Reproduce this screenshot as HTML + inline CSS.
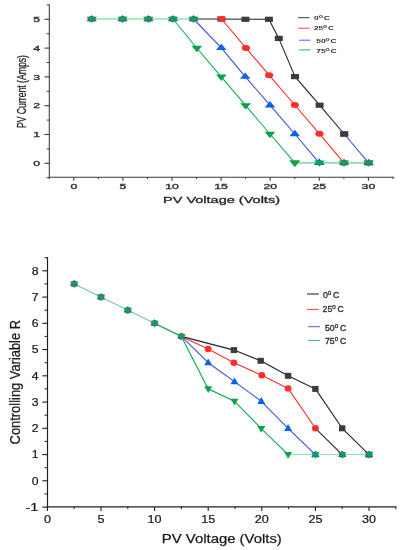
<!DOCTYPE html>
<html lang="en"><head><meta charset="utf-8"><title>PV characteristics</title>
<style>
html,body{margin:0;padding:0;background:#fff;}
svg{display:block;font-family:"Liberation Sans",sans-serif;}
</style></head>
<body>
<svg width="401" height="550" viewBox="0 0 401 550">
<rect width="401" height="550" fill="#ffffff"/>
<g id="chart1">
<polyline points="193.5,19.0 221.3,19.0 245.4,19.3 268.9,19.3 278.8,38.4 295.0,76.6 319.6,105.2 344.2,134.0" fill="none" stroke="#222222" stroke-width="1.1" stroke-linejoin="round"/>
<line x1="344.2" y1="134.0" x2="368.6" y2="162.8" stroke="#3b50dc" stroke-width="1.1" />
<polyline points="221.5,19.0 245.9,47.9 269.1,75.2 294.8,105.0 319.5,133.8 344.0,162.8" fill="none" stroke="#ff2d2d" stroke-width="1.1" stroke-linejoin="round"/>
<polyline points="193.5,19.0 221.3,47.9 245.2,76.6 270.0,105.2 294.8,134.0 319.3,162.8" fill="none" stroke="#3b50dc" stroke-width="1.1" stroke-linejoin="round"/>
<polyline points="173.0,19.0 196.8,48.0 221.3,76.8 245.6,105.4 270.0,134.0 294.8,162.8" fill="none" stroke="#10b050" stroke-width="1.1" stroke-linejoin="round"/>
<line x1="91.7" y1="19.0" x2="193.5" y2="19.0" stroke="#56d486" stroke-width="1.2" />
<line x1="294.8" y1="162.8" x2="368.6" y2="162.8" stroke="#56d486" stroke-width="1.2" />
<rect x="217.3" y="16.4" width="8" height="5.2" fill="#3c3c3c"/>
<rect x="241.4" y="16.7" width="8" height="5.2" fill="#3c3c3c"/>
<rect x="264.9" y="16.7" width="8" height="5.2" fill="#3c3c3c"/>
<rect x="274.8" y="35.8" width="8" height="5.2" fill="#3c3c3c"/>
<rect x="291.0" y="74.0" width="8" height="5.2" fill="#3c3c3c"/>
<rect x="315.6" y="102.6" width="8" height="5.2" fill="#3c3c3c"/>
<rect x="340.2" y="131.4" width="8" height="5.2" fill="#3c3c3c"/>
<rect x="340.2" y="131.4" width="8" height="5.2" fill="#3c3c3c"/>
<rect x="364.6" y="160.2" width="8" height="5.2" fill="#3c3c3c"/>
<ellipse cx="221.5" cy="19.0" rx="4.1" ry="3.0" fill="#ff2d2d"/>
<ellipse cx="245.9" cy="47.9" rx="4.1" ry="3.0" fill="#ff2d2d"/>
<ellipse cx="269.1" cy="75.2" rx="4.1" ry="3.0" fill="#ff2d2d"/>
<ellipse cx="294.8" cy="105.0" rx="4.1" ry="3.0" fill="#ff2d2d"/>
<ellipse cx="319.5" cy="133.8" rx="4.1" ry="3.0" fill="#ff2d2d"/>
<ellipse cx="344.0" cy="162.8" rx="4.1" ry="3.0" fill="#ff2d2d"/>
<ellipse cx="368.6" cy="162.8" rx="4.1" ry="3.0" fill="#ff2d2d"/>
<polygon points="221.3,43.7 226.6,50.1 216.0,50.1" fill="#0b62ee"/>
<polygon points="245.2,72.4 250.5,78.8 239.9,78.8" fill="#0b62ee"/>
<polygon points="270.0,101.0 275.3,107.4 264.7,107.4" fill="#0b62ee"/>
<polygon points="294.8,129.8 300.1,136.2 289.5,136.2" fill="#0b62ee"/>
<polygon points="319.3,158.6 324.6,165.0 314.0,165.0" fill="#0b62ee"/>
<polygon points="191.5,45.8 202.1,45.8 196.8,52.2" fill="#0aa24c"/>
<polygon points="216.0,74.6 226.6,74.6 221.3,81.0" fill="#0aa24c"/>
<polygon points="240.3,103.2 250.9,103.2 245.6,109.6" fill="#0aa24c"/>
<polygon points="264.7,131.8 275.3,131.8 270.0,138.2" fill="#0aa24c"/>
<polygon points="289.5,160.6 300.1,160.6 294.8,167.0" fill="#0aa24c"/>
<ellipse cx="91.7" cy="19.0" rx="4.4" ry="3.1" fill="#f0766a"/>
<polygon points="91.7,15.0 96.9,21.2 86.5,21.2" fill="#0b62ee"/>
<polygon points="86.5,16.8 96.9,16.8 91.7,23.0" fill="#0aa24c"/>
<ellipse cx="122.6" cy="19.0" rx="4.4" ry="3.1" fill="#f0766a"/>
<polygon points="122.6,15.0 127.8,21.2 117.4,21.2" fill="#0b62ee"/>
<polygon points="117.4,16.8 127.8,16.8 122.6,23.0" fill="#0aa24c"/>
<ellipse cx="148.4" cy="19.0" rx="4.4" ry="3.1" fill="#f0766a"/>
<polygon points="148.4,15.0 153.6,21.2 143.2,21.2" fill="#0b62ee"/>
<polygon points="143.2,16.8 153.6,16.8 148.4,23.0" fill="#0aa24c"/>
<ellipse cx="173.0" cy="19.0" rx="4.4" ry="3.1" fill="#f0766a"/>
<polygon points="173.0,15.0 178.2,21.2 167.8,21.2" fill="#0b62ee"/>
<polygon points="167.8,16.8 178.2,16.8 173.0,23.0" fill="#0aa24c"/>
<ellipse cx="193.5" cy="19.0" rx="4.4" ry="3.1" fill="#f0766a"/>
<polygon points="193.5,15.0 198.7,21.2 188.3,21.2" fill="#0b62ee"/>
<polygon points="188.3,16.8 198.7,16.8 193.5,23.0" fill="#0aa24c"/>
<polygon points="289.6,160.6 300.0,160.6 294.8,166.8" fill="#0aa24c"/>
<polygon points="319.3,158.8 324.5,165.0 314.1,165.0" fill="#0b62ee"/>
<polygon points="314.1,160.6 324.5,160.6 319.3,166.8" fill="#0aa24c"/>
<ellipse cx="344.0" cy="162.8" rx="4.4" ry="3.1" fill="#f0766a"/>
<polygon points="344.0,158.8 349.2,165.0 338.8,165.0" fill="#0b62ee"/>
<polygon points="338.8,160.6 349.2,160.6 344.0,166.8" fill="#0aa24c"/>
<ellipse cx="368.6" cy="162.8" rx="4.4" ry="3.1" fill="#f0766a"/>
<polygon points="368.6,158.8 373.8,165.0 363.4,165.0" fill="#0b62ee"/>
<polygon points="363.4,160.6 373.8,160.6 368.6,166.8" fill="#0aa24c"/>
<line x1="49.3" y1="4.2" x2="49.3" y2="177.8" stroke="#3a3a3a" stroke-width="1.05" />
<line x1="48.8" y1="177.3" x2="394.2" y2="177.3" stroke="#3a3a3a" stroke-width="1.05" />
<line x1="44.5" y1="163.3" x2="49.3" y2="163.3" stroke="#3a3a3a" stroke-width="1.1" />
<line x1="44.5" y1="134.5" x2="49.3" y2="134.5" stroke="#3a3a3a" stroke-width="1.1" />
<line x1="44.5" y1="105.7" x2="49.3" y2="105.7" stroke="#3a3a3a" stroke-width="1.1" />
<line x1="44.5" y1="76.9" x2="49.3" y2="76.9" stroke="#3a3a3a" stroke-width="1.1" />
<line x1="44.5" y1="48.1" x2="49.3" y2="48.1" stroke="#3a3a3a" stroke-width="1.1" />
<line x1="44.5" y1="19.3" x2="49.3" y2="19.3" stroke="#3a3a3a" stroke-width="1.1" />
<line x1="46.7" y1="177.7" x2="49.3" y2="177.7" stroke="#3a3a3a" stroke-width="1.0" />
<line x1="46.7" y1="148.9" x2="49.3" y2="148.9" stroke="#3a3a3a" stroke-width="1.0" />
<line x1="46.7" y1="120.1" x2="49.3" y2="120.1" stroke="#3a3a3a" stroke-width="1.0" />
<line x1="46.7" y1="91.3" x2="49.3" y2="91.3" stroke="#3a3a3a" stroke-width="1.0" />
<line x1="46.7" y1="62.5" x2="49.3" y2="62.5" stroke="#3a3a3a" stroke-width="1.0" />
<line x1="46.7" y1="33.7" x2="49.3" y2="33.7" stroke="#3a3a3a" stroke-width="1.0" />
<line x1="46.7" y1="4.9" x2="49.3" y2="4.9" stroke="#3a3a3a" stroke-width="1.0" />
<line x1="73.8" y1="177.3" x2="73.8" y2="180.7" stroke="#3a3a3a" stroke-width="1.1" />
<line x1="122.9" y1="177.3" x2="122.9" y2="180.7" stroke="#3a3a3a" stroke-width="1.1" />
<line x1="172.0" y1="177.3" x2="172.0" y2="180.7" stroke="#3a3a3a" stroke-width="1.1" />
<line x1="221.1" y1="177.3" x2="221.1" y2="180.7" stroke="#3a3a3a" stroke-width="1.1" />
<line x1="270.2" y1="177.3" x2="270.2" y2="180.7" stroke="#3a3a3a" stroke-width="1.1" />
<line x1="319.3" y1="177.3" x2="319.3" y2="180.7" stroke="#3a3a3a" stroke-width="1.1" />
<line x1="368.4" y1="177.3" x2="368.4" y2="180.7" stroke="#3a3a3a" stroke-width="1.1" />
<line x1="49.2" y1="177.3" x2="49.2" y2="179.1" stroke="#3a3a3a" stroke-width="1.0" />
<line x1="98.3" y1="177.3" x2="98.3" y2="179.1" stroke="#3a3a3a" stroke-width="1.0" />
<line x1="147.4" y1="177.3" x2="147.4" y2="179.1" stroke="#3a3a3a" stroke-width="1.0" />
<line x1="196.6" y1="177.3" x2="196.6" y2="179.1" stroke="#3a3a3a" stroke-width="1.0" />
<line x1="245.6" y1="177.3" x2="245.6" y2="179.1" stroke="#3a3a3a" stroke-width="1.0" />
<line x1="294.8" y1="177.3" x2="294.8" y2="179.1" stroke="#3a3a3a" stroke-width="1.0" />
<line x1="343.9" y1="177.3" x2="343.9" y2="179.1" stroke="#3a3a3a" stroke-width="1.0" />
<line x1="393.0" y1="177.3" x2="393.0" y2="179.1" stroke="#3a3a3a" stroke-width="1.0" />
<text x="36.6" y="166.0" font-size="7.0" text-anchor="middle" font-weight="normal" fill="#2a2a2a" textLength="6.8" lengthAdjust="spacingAndGlyphs" stroke="#2a2a2a" stroke-width="0.3">0</text>
<text x="36.6" y="137.2" font-size="7.0" text-anchor="middle" font-weight="normal" fill="#2a2a2a" textLength="6.8" lengthAdjust="spacingAndGlyphs" stroke="#2a2a2a" stroke-width="0.3">1</text>
<text x="36.6" y="108.4" font-size="7.0" text-anchor="middle" font-weight="normal" fill="#2a2a2a" textLength="6.8" lengthAdjust="spacingAndGlyphs" stroke="#2a2a2a" stroke-width="0.3">2</text>
<text x="36.6" y="79.6" font-size="7.0" text-anchor="middle" font-weight="normal" fill="#2a2a2a" textLength="6.8" lengthAdjust="spacingAndGlyphs" stroke="#2a2a2a" stroke-width="0.3">3</text>
<text x="36.6" y="50.8" font-size="7.0" text-anchor="middle" font-weight="normal" fill="#2a2a2a" textLength="6.8" lengthAdjust="spacingAndGlyphs" stroke="#2a2a2a" stroke-width="0.3">4</text>
<text x="36.6" y="22.0" font-size="7.0" text-anchor="middle" font-weight="normal" fill="#2a2a2a" textLength="6.8" lengthAdjust="spacingAndGlyphs" stroke="#2a2a2a" stroke-width="0.3">5</text>
<text x="73.8" y="189.1" font-size="7.0" text-anchor="middle" font-weight="normal" fill="#2a2a2a" textLength="6.8" lengthAdjust="spacingAndGlyphs" stroke="#2a2a2a" stroke-width="0.3">0</text>
<text x="122.9" y="189.1" font-size="7.0" text-anchor="middle" font-weight="normal" fill="#2a2a2a" textLength="6.8" lengthAdjust="spacingAndGlyphs" stroke="#2a2a2a" stroke-width="0.3">5</text>
<text x="172.0" y="189.1" font-size="7.0" text-anchor="middle" font-weight="normal" fill="#2a2a2a" textLength="13.6" lengthAdjust="spacingAndGlyphs" stroke="#2a2a2a" stroke-width="0.3">10</text>
<text x="221.1" y="189.1" font-size="7.0" text-anchor="middle" font-weight="normal" fill="#2a2a2a" textLength="13.6" lengthAdjust="spacingAndGlyphs" stroke="#2a2a2a" stroke-width="0.3">15</text>
<text x="270.2" y="189.1" font-size="7.0" text-anchor="middle" font-weight="normal" fill="#2a2a2a" textLength="13.6" lengthAdjust="spacingAndGlyphs" stroke="#2a2a2a" stroke-width="0.3">20</text>
<text x="319.3" y="189.1" font-size="7.0" text-anchor="middle" font-weight="normal" fill="#2a2a2a" textLength="13.6" lengthAdjust="spacingAndGlyphs" stroke="#2a2a2a" stroke-width="0.3">25</text>
<text x="368.4" y="189.1" font-size="7.0" text-anchor="middle" font-weight="normal" fill="#2a2a2a" textLength="13.6" lengthAdjust="spacingAndGlyphs" stroke="#2a2a2a" stroke-width="0.3">30</text>
<text x="221.5" y="203.0" font-size="9.8" text-anchor="middle" font-weight="normal" fill="#222" textLength="117" lengthAdjust="spacingAndGlyphs" stroke="#222" stroke-width="0.3">PV Voltage (Volts)</text>
<text x="26.3" y="91.6" font-size="12.6" text-anchor="middle" font-weight="normal" fill="#222" textLength="73" lengthAdjust="spacingAndGlyphs" transform="rotate(-90 26.3 91.6)" id="yl1" stroke="#222" stroke-width="0.3">PV Current (Amps)</text>
<line x1="298.2" y1="17.7" x2="309.5" y2="17.7" stroke="#222222" stroke-width="0.9" />
<text x="313.9" y="20.0" font-size="5.6" font-weight="bold" fill="#2a2a2a" textLength="16" lengthAdjust="spacingAndGlyphs">0<tspan font-size="4.6" dy="-1.7">o</tspan><tspan dy="1.7" font-size="5.6">&#8202;C</tspan></text>
<line x1="298.2" y1="28.2" x2="309.5" y2="28.2" stroke="#ff2d2d" stroke-width="0.9" />
<text x="313.9" y="30.1" font-size="5.6" font-weight="bold" fill="#2a2a2a" textLength="20" lengthAdjust="spacingAndGlyphs">25<tspan font-size="4.6" dy="-1.7">o</tspan><tspan dy="1.7" font-size="5.6">&#8202;C</tspan></text>
<line x1="299.0" y1="40.2" x2="310.3" y2="40.2" stroke="#3b50dc" stroke-width="0.9" />
<text x="316.2" y="42.8" font-size="5.6" font-weight="bold" fill="#2a2a2a" textLength="20.5" lengthAdjust="spacingAndGlyphs">50<tspan font-size="4.6" dy="-1.7">o</tspan><tspan dy="1.7" font-size="5.6">&#8202;C</tspan></text>
<line x1="299.0" y1="49.9" x2="310.3" y2="49.9" stroke="#10b050" stroke-width="0.9" />
<text x="316.2" y="52.5" font-size="5.6" font-weight="bold" fill="#2a2a2a" textLength="20.5" lengthAdjust="spacingAndGlyphs">75<tspan font-size="4.6" dy="-1.7">o</tspan><tspan dy="1.7" font-size="5.6">&#8202;C</tspan></text>
</g>
<g id="chart2">
<polyline points="181.4,336.4 233.9,350.1 260.7,360.8 288.1,375.8 315.4,388.9 342.2,428.3 369.0,454.6" fill="none" stroke="#222222" stroke-width="1.1" stroke-linejoin="round"/>
<polyline points="181.4,336.4 208.2,349.0 233.9,362.7 261.8,375.3 288.1,388.4 315.4,428.3" fill="none" stroke="#ff2d2d" stroke-width="1.1" stroke-linejoin="round"/>
<line x1="315.4" y1="428.3" x2="342.2" y2="454.6" stroke="#222222" stroke-width="1.1" />
<polyline points="181.4,336.4 208.2,362.7 234.5,381.6 261.3,401.3 288.1,428.3 315.4,454.6" fill="none" stroke="#3b50dc" stroke-width="1.1" stroke-linejoin="round"/>
<polyline points="181.4,336.4 208.2,388.9 234.5,401.3 261.3,428.6 288.1,454.6" fill="none" stroke="#10b050" stroke-width="1.2" stroke-linejoin="round"/>
<polyline points="74.2,283.9 101.0,297.1 127.8,310.2 154.6,323.3" fill="none" stroke="#3cc476" stroke-width="0.9" stroke-linejoin="round"/>
<polyline points="154.6,323.3 181.4,336.4" fill="none" stroke="#10b050" stroke-width="1.3" stroke-linejoin="round"/>
<line x1="288.1" y1="454.6" x2="369.0" y2="454.6" stroke="#74dca0" stroke-width="0.9" />
<rect x="230.7" y="347.1" width="6.4" height="6.0" fill="#3c3c3c"/>
<rect x="257.5" y="357.8" width="6.4" height="6.0" fill="#3c3c3c"/>
<rect x="284.9" y="372.8" width="6.4" height="6.0" fill="#3c3c3c"/>
<rect x="312.2" y="385.9" width="6.4" height="6.0" fill="#3c3c3c"/>
<rect x="339.0" y="425.3" width="6.4" height="6.0" fill="#3c3c3c"/>
<rect x="365.8" y="451.6" width="6.4" height="6.0" fill="#3c3c3c"/>
<ellipse cx="208.2" cy="349.0" rx="3.4" ry="3.2" fill="#ff2d2d"/>
<ellipse cx="233.9" cy="362.7" rx="3.4" ry="3.2" fill="#ff2d2d"/>
<ellipse cx="261.8" cy="375.3" rx="3.4" ry="3.2" fill="#ff2d2d"/>
<ellipse cx="288.1" cy="388.4" rx="3.4" ry="3.2" fill="#ff2d2d"/>
<ellipse cx="315.4" cy="428.3" rx="3.4" ry="3.2" fill="#ff2d2d"/>
<ellipse cx="342.2" cy="454.6" rx="3.4" ry="3.2" fill="#ff2d2d"/>
<polygon points="208.2,358.5 212.2,365.3 204.2,365.3" fill="#0b62ee"/>
<polygon points="234.5,377.4 238.5,384.2 230.5,384.2" fill="#0b62ee"/>
<polygon points="261.3,397.1 265.3,403.9 257.3,403.9" fill="#0b62ee"/>
<polygon points="288.1,424.1 292.1,430.9 284.1,430.9" fill="#0b62ee"/>
<polygon points="315.4,450.4 319.4,457.2 311.4,457.2" fill="#0b62ee"/>
<polygon points="204.2,386.3 212.2,386.3 208.2,393.1" fill="#0aa24c"/>
<polygon points="230.5,398.7 238.5,398.7 234.5,405.5" fill="#0aa24c"/>
<polygon points="257.3,426.0 265.3,426.0 261.3,432.8" fill="#0aa24c"/>
<polygon points="284.1,451.9 292.1,451.9 288.1,458.8" fill="#0aa24c"/>
<ellipse cx="74.2" cy="283.9" rx="3.7" ry="3.3" fill="#ee7060"/>
<polygon points="74.2,279.7 78.3,286.2 70.1,286.2" fill="#0b62ee"/>
<polygon points="70.1,281.4 78.3,281.4 74.2,288.1" fill="#0aa24c"/>
<ellipse cx="101.0" cy="297.1" rx="3.7" ry="3.3" fill="#ee7060"/>
<polygon points="101.0,292.9 105.1,299.4 96.9,299.4" fill="#0b62ee"/>
<polygon points="96.9,294.6 105.1,294.6 101.0,301.2" fill="#0aa24c"/>
<ellipse cx="127.8" cy="310.2" rx="3.7" ry="3.3" fill="#ee7060"/>
<polygon points="127.8,306.0 131.9,312.5 123.7,312.5" fill="#0b62ee"/>
<polygon points="123.7,307.7 131.9,307.7 127.8,314.4" fill="#0aa24c"/>
<ellipse cx="154.6" cy="323.3" rx="3.7" ry="3.3" fill="#ee7060"/>
<polygon points="154.6,319.1 158.7,325.6 150.5,325.6" fill="#0b62ee"/>
<polygon points="150.5,320.8 158.7,320.8 154.6,327.5" fill="#0aa24c"/>
<ellipse cx="181.4" cy="336.4" rx="3.7" ry="3.3" fill="#ee7060"/>
<polygon points="181.4,332.2 185.5,338.7 177.3,338.7" fill="#0b62ee"/>
<polygon points="177.3,333.9 185.5,333.9 181.4,340.6" fill="#0aa24c"/>
<polygon points="315.4,450.4 319.5,456.9 311.3,456.9" fill="#0b62ee"/>
<polygon points="311.3,452.1 319.5,452.1 315.4,458.8" fill="#0aa24c"/>
<polygon points="342.2,450.4 346.3,456.9 338.1,456.9" fill="#0b62ee"/>
<polygon points="338.1,452.1 346.3,452.1 342.2,458.8" fill="#0aa24c"/>
<ellipse cx="369.0" cy="454.6" rx="3.7" ry="3.3" fill="#ee7060"/>
<polygon points="369.0,450.4 373.1,456.9 364.9,456.9" fill="#0b62ee"/>
<polygon points="364.9,452.1 373.1,452.1 369.0,458.8" fill="#0aa24c"/>
<line x1="47.5" y1="257.2" x2="47.5" y2="507.5" stroke="#1e1e1e" stroke-width="1.2" />
<line x1="46.9" y1="506.9" x2="396.5" y2="506.9" stroke="#1e1e1e" stroke-width="1.2" />
<line x1="42.3" y1="507.1" x2="47.5" y2="507.1" stroke="#1e1e1e" stroke-width="1.1" />
<line x1="42.3" y1="480.8" x2="47.5" y2="480.8" stroke="#1e1e1e" stroke-width="1.1" />
<line x1="42.3" y1="454.6" x2="47.5" y2="454.6" stroke="#1e1e1e" stroke-width="1.1" />
<line x1="42.3" y1="428.3" x2="47.5" y2="428.3" stroke="#1e1e1e" stroke-width="1.1" />
<line x1="42.3" y1="402.1" x2="47.5" y2="402.1" stroke="#1e1e1e" stroke-width="1.1" />
<line x1="42.3" y1="375.8" x2="47.5" y2="375.8" stroke="#1e1e1e" stroke-width="1.1" />
<line x1="42.3" y1="349.6" x2="47.5" y2="349.6" stroke="#1e1e1e" stroke-width="1.1" />
<line x1="42.3" y1="323.3" x2="47.5" y2="323.3" stroke="#1e1e1e" stroke-width="1.1" />
<line x1="42.3" y1="297.1" x2="47.5" y2="297.1" stroke="#1e1e1e" stroke-width="1.1" />
<line x1="42.3" y1="270.8" x2="47.5" y2="270.8" stroke="#1e1e1e" stroke-width="1.1" />
<line x1="44.5" y1="493.9" x2="47.5" y2="493.9" stroke="#1e1e1e" stroke-width="1.0" />
<line x1="44.5" y1="467.7" x2="47.5" y2="467.7" stroke="#1e1e1e" stroke-width="1.0" />
<line x1="44.5" y1="441.4" x2="47.5" y2="441.4" stroke="#1e1e1e" stroke-width="1.0" />
<line x1="44.5" y1="415.2" x2="47.5" y2="415.2" stroke="#1e1e1e" stroke-width="1.0" />
<line x1="44.5" y1="388.9" x2="47.5" y2="388.9" stroke="#1e1e1e" stroke-width="1.0" />
<line x1="44.5" y1="362.7" x2="47.5" y2="362.7" stroke="#1e1e1e" stroke-width="1.0" />
<line x1="44.5" y1="336.4" x2="47.5" y2="336.4" stroke="#1e1e1e" stroke-width="1.0" />
<line x1="44.5" y1="310.2" x2="47.5" y2="310.2" stroke="#1e1e1e" stroke-width="1.0" />
<line x1="44.5" y1="283.9" x2="47.5" y2="283.9" stroke="#1e1e1e" stroke-width="1.0" />
<line x1="44.5" y1="257.7" x2="47.5" y2="257.7" stroke="#1e1e1e" stroke-width="1.0" />
<line x1="47.4" y1="506.9" x2="47.4" y2="511.1" stroke="#1e1e1e" stroke-width="1.1" />
<line x1="101.0" y1="506.9" x2="101.0" y2="511.1" stroke="#1e1e1e" stroke-width="1.1" />
<line x1="154.6" y1="506.9" x2="154.6" y2="511.1" stroke="#1e1e1e" stroke-width="1.1" />
<line x1="208.2" y1="506.9" x2="208.2" y2="511.1" stroke="#1e1e1e" stroke-width="1.1" />
<line x1="261.8" y1="506.9" x2="261.8" y2="511.1" stroke="#1e1e1e" stroke-width="1.1" />
<line x1="315.4" y1="506.9" x2="315.4" y2="511.1" stroke="#1e1e1e" stroke-width="1.1" />
<line x1="369.0" y1="506.9" x2="369.0" y2="511.1" stroke="#1e1e1e" stroke-width="1.1" />
<line x1="74.2" y1="506.9" x2="74.2" y2="509.1" stroke="#1e1e1e" stroke-width="1.0" />
<line x1="127.8" y1="506.9" x2="127.8" y2="509.1" stroke="#1e1e1e" stroke-width="1.0" />
<line x1="181.4" y1="506.9" x2="181.4" y2="509.1" stroke="#1e1e1e" stroke-width="1.0" />
<line x1="235.0" y1="506.9" x2="235.0" y2="509.1" stroke="#1e1e1e" stroke-width="1.0" />
<line x1="288.6" y1="506.9" x2="288.6" y2="509.1" stroke="#1e1e1e" stroke-width="1.0" />
<line x1="342.2" y1="506.9" x2="342.2" y2="509.1" stroke="#1e1e1e" stroke-width="1.0" />
<line x1="395.8" y1="506.9" x2="395.8" y2="509.1" stroke="#1e1e1e" stroke-width="1.0" />
<text x="38.5" y="510.9" font-size="10.5" text-anchor="end" font-weight="normal" fill="#161616" textLength="13.0" lengthAdjust="spacingAndGlyphs" stroke="#161616" stroke-width="0.2">-1</text>
<text x="38.5" y="484.6" font-size="10.5" text-anchor="end" font-weight="normal" fill="#161616" textLength="6.8" lengthAdjust="spacingAndGlyphs" stroke="#161616" stroke-width="0.2">0</text>
<text x="38.5" y="458.4" font-size="10.5" text-anchor="end" font-weight="normal" fill="#161616" textLength="6.8" lengthAdjust="spacingAndGlyphs" stroke="#161616" stroke-width="0.2">1</text>
<text x="38.5" y="432.1" font-size="10.5" text-anchor="end" font-weight="normal" fill="#161616" textLength="6.8" lengthAdjust="spacingAndGlyphs" stroke="#161616" stroke-width="0.2">2</text>
<text x="38.5" y="405.9" font-size="10.5" text-anchor="end" font-weight="normal" fill="#161616" textLength="6.8" lengthAdjust="spacingAndGlyphs" stroke="#161616" stroke-width="0.2">3</text>
<text x="38.5" y="379.6" font-size="10.5" text-anchor="end" font-weight="normal" fill="#161616" textLength="6.8" lengthAdjust="spacingAndGlyphs" stroke="#161616" stroke-width="0.2">4</text>
<text x="38.5" y="353.4" font-size="10.5" text-anchor="end" font-weight="normal" fill="#161616" textLength="6.8" lengthAdjust="spacingAndGlyphs" stroke="#161616" stroke-width="0.2">5</text>
<text x="38.5" y="327.1" font-size="10.5" text-anchor="end" font-weight="normal" fill="#161616" textLength="6.8" lengthAdjust="spacingAndGlyphs" stroke="#161616" stroke-width="0.2">6</text>
<text x="38.5" y="300.9" font-size="10.5" text-anchor="end" font-weight="normal" fill="#161616" textLength="6.8" lengthAdjust="spacingAndGlyphs" stroke="#161616" stroke-width="0.2">7</text>
<text x="38.5" y="274.6" font-size="10.5" text-anchor="end" font-weight="normal" fill="#161616" textLength="6.8" lengthAdjust="spacingAndGlyphs" stroke="#161616" stroke-width="0.2">8</text>
<text x="47.4" y="523.0" font-size="10.5" text-anchor="middle" font-weight="normal" fill="#161616" textLength="7.0" lengthAdjust="spacingAndGlyphs" stroke="#161616" stroke-width="0.2">0</text>
<text x="101.0" y="523.0" font-size="10.5" text-anchor="middle" font-weight="normal" fill="#161616" textLength="7.0" lengthAdjust="spacingAndGlyphs" stroke="#161616" stroke-width="0.2">5</text>
<text x="154.6" y="523.0" font-size="10.5" text-anchor="middle" font-weight="normal" fill="#161616" textLength="14.0" lengthAdjust="spacingAndGlyphs" stroke="#161616" stroke-width="0.2">10</text>
<text x="208.2" y="523.0" font-size="10.5" text-anchor="middle" font-weight="normal" fill="#161616" textLength="14.0" lengthAdjust="spacingAndGlyphs" stroke="#161616" stroke-width="0.2">15</text>
<text x="261.8" y="523.0" font-size="10.5" text-anchor="middle" font-weight="normal" fill="#161616" textLength="14.0" lengthAdjust="spacingAndGlyphs" stroke="#161616" stroke-width="0.2">20</text>
<text x="315.4" y="523.0" font-size="10.5" text-anchor="middle" font-weight="normal" fill="#161616" textLength="14.0" lengthAdjust="spacingAndGlyphs" stroke="#161616" stroke-width="0.2">25</text>
<text x="369.0" y="523.0" font-size="10.5" text-anchor="middle" font-weight="normal" fill="#161616" textLength="14.0" lengthAdjust="spacingAndGlyphs" stroke="#161616" stroke-width="0.2">30</text>
<text x="221.8" y="543.2" font-size="13" text-anchor="middle" font-weight="normal" fill="#1a1a1a" textLength="120" lengthAdjust="spacingAndGlyphs" stroke="#1a1a1a" stroke-width="0.25">PV Voltage (Volts)</text>
<text x="20.3" y="382.2" font-size="13.8" text-anchor="middle" font-weight="normal" fill="#1a1a1a" textLength="124.4" lengthAdjust="spacingAndGlyphs" transform="rotate(-90 20.3 382.2)" id="yl2" stroke="#1a1a1a" stroke-width="0.25">Controlling Variable R</text>
<line x1="307.0" y1="294.0" x2="318.8" y2="294.0" stroke="#4a4a4a" stroke-width="1.3" />
<text x="323.0" y="297.7" font-size="8.4" fill="#333" stroke="#333" stroke-width="0.35" textLength="16.4" lengthAdjust="spacingAndGlyphs">0<tspan font-size="6" dy="-2.7">0</tspan><tspan dy="2.7" font-size="8.4">&#8201;C</tspan></text>
<line x1="307.0" y1="309.4" x2="318.8" y2="309.4" stroke="#ff2d2d" stroke-width="0.9" />
<text x="322.6" y="311.9" font-size="8.4" fill="#333" stroke="#333" stroke-width="0.35" textLength="21.2" lengthAdjust="spacingAndGlyphs">25<tspan font-size="6" dy="-2.7">0</tspan><tspan dy="2.7" font-size="8.4">&#8201;C</tspan></text>
<line x1="308.2" y1="326.6" x2="320.0" y2="326.6" stroke="#6f7fe8" stroke-width="1.3" />
<text x="325.0" y="330.6" font-size="8.4" fill="#333" stroke="#333" stroke-width="0.35" textLength="21.2" lengthAdjust="spacingAndGlyphs">50<tspan font-size="6" dy="-2.7">0</tspan><tspan dy="2.7" font-size="8.4">&#8201;C</tspan></text>
<line x1="308.2" y1="340.4" x2="320.0" y2="340.4" stroke="#10b050" stroke-width="0.9" />
<text x="325.0" y="343.8" font-size="8.4" fill="#333" stroke="#333" stroke-width="0.35" textLength="21.2" lengthAdjust="spacingAndGlyphs">75<tspan font-size="6" dy="-2.7">0</tspan><tspan dy="2.7" font-size="8.4">&#8201;C</tspan></text>
</g>
</svg>
</body></html>
